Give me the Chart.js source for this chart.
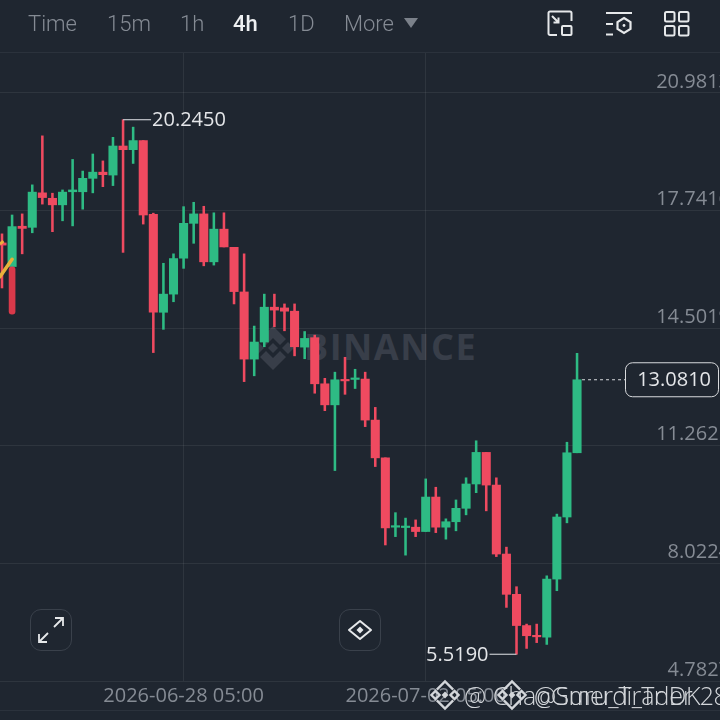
<!DOCTYPE html>
<html><head><meta charset="utf-8">
<script src="https://cdn.jsdelivr.net/npm/chart.js@4"></script>
<style>
html,body{margin:0;padding:0;background:#1f2630;width:720px;height:720px;overflow:hidden;font-family:Roboto,sans-serif}
#wrap{position:relative;width:720px;height:720px}
#c{position:absolute;left:0;top:0;width:720px;height:720px}
.hdr{position:absolute;left:0;top:0;width:720px;height:52px;border-bottom:1px solid #2b323c;box-sizing:content-box}
.t{position:absolute;top:9px;font-size:22px;font-weight:300;color:#858b94;line-height:30px}
.t.on{color:#eef0f2;font-weight:500}
.foot{position:absolute;left:0;top:710px;width:720px;height:1px;background:#2b323c}
.btn{position:absolute;top:609px;width:42px;height:42px;border:1px solid #3a414b;border-radius:11px;box-sizing:border-box}
svg{position:absolute}
.wm{position:absolute;top:677px;font-family:"Open Sans",sans-serif;font-size:25px;color:#d3d6da;line-height:36px;white-space:nowrap;font-weight:300}
#bn{position:absolute;left:304px;top:325px;font-family:"Open Sans",sans-serif;font-size:36px;font-weight:700;color:#383e49;letter-spacing:1.5px;line-height:44px}
</style></head><body>
<div id="wrap">
<svg width="48" height="48" viewBox="-24 -24 48 48" style="left:249px;top:324px"><g fill="#383e49"><path d="M0-22 13-9 7-3 0-10-7-3-13-9Z"/><path d="M0 22 13 9 7 3 0 10-7 3-13 9Z"/><path d="M-15-6-9 0-15 6-21 0Z"/><path d="M15-6 21 0 15 6 9 0Z"/><path d="M0-5 5 0 0 5-5 0Z"/></g></svg>
<div id="bn">BINANCE</div>
<canvas id="c" width="720" height="720"></canvas>
<div class="hdr"></div>
<div class="t" style="left:28px">Time</div>
<div class="t" style="left:107px">15m</div>
<div class="t" style="left:180px">1h</div>
<div class="t on" style="left:233px">4h</div>
<div class="t" style="left:288px">1D</div>
<div class="t" style="left:344px">More</div>
<svg width="16" height="12" style="left:403px;top:17px"><path d="M1 1H15L8 11Z" fill="#7b818a"/></svg>
<svg width="28" height="28" style="left:547px;top:10px" fill="none" stroke="#e6e8ea" stroke-width="2"><path d="M10 25H3a1.5 1.5 0 0 1-1.500-1.500V3A1.500 1.500 0 0 1 3 1.500H23A1.500 1.500 0 0 1 24.500 3V11"/><rect x="15" y="16" width="9.500" height="9" rx="1"/><path d="M5 6 11.500 12.500M11.500 7.500V12.500H6.500"/></svg>
<svg width="30" height="28" style="left:604px;top:10px" fill="none" stroke="#e6e8ea" stroke-width="2.200"><path d="M2 3H28M2 14H9M2 24.500H9"/><path d="M20 8 26.500 12V19L20 23 13.500 19V12Z"/><circle cx="20" cy="15.500" r="1.400" fill="#e6e8ea" stroke="none"/></svg>
<svg width="28" height="28" style="left:663px;top:10px" fill="none" stroke="#e6e8ea" stroke-width="2"><rect x="2" y="2" width="9.500" height="9.500" rx="1.500"/><rect x="16" y="2" width="9.500" height="9.500" rx="1.500"/><rect x="2" y="16" width="9.500" height="9.500" rx="1.500"/><rect x="16" y="16" width="9.500" height="9.500" rx="1.500"/></svg>
<div class="btn" style="left:30px"></div>
<svg width="30" height="30" style="left:36px;top:615px" fill="none" stroke="#e6e8ea" stroke-width="1.800"><path d="M3 27 12 18M3 19V27H11M27 3 18 12M19 3H27V11"/></svg>
<div class="btn" style="left:339px"></div>
<svg width="28" height="22" style="left:346px;top:619px"><path d="M14 2 25 11 14 20 3 11Z" fill="none" stroke="#e6e8ea" stroke-width="2" stroke-linejoin="round"/><path d="M14 7.500 17.500 11 14 14.500 10.500 11Z" fill="#e6e8ea"/></svg>
<div class="foot"></div>
<svg width="30" height="34" viewBox="-22 -22 44 44" style="left:430px;top:678px"><g fill="none" stroke="#d3d6da" stroke-width="3.500"><path d="M-12-8 0-20 12-8M-12 8 0 20 12 8M-20 0-14 6-8 0-14-6ZM20 0 14 6 8 0 14-6Z"/></g><path d="M0-5 5 0 0 5-5 0Z" fill="#d3d6da"/></svg>
<svg width="30" height="34" viewBox="-22 -22 44 44" style="left:497px;top:678px"><g fill="none" stroke="#d3d6da" stroke-width="3.500"><path d="M-12-8 0-20 12-8M-12 8 0 20 12 8M-20 0-14 6-8 0-14-6ZM20 0 14 6 8 0 14-6Z"/></g><path d="M0-5 5 0 0 5-5 0Z" fill="#d3d6da"/></svg>
<div class="wm" style="left:464px">@ ChaoGuru_Trader</div>
<div class="wm" style="left:534px;letter-spacing:-.6px">@Smerdi_Tr DK28</div>
</div>
<script>
const opens=[16.85,16.20,17.31,17.28,18.23,18.08,17.90,18.26,18.26,18.63,18.80,18.72,19.52,19.42,19.67,17.64,14.94,15.44,16.43,17.39,17.65,16.33,17.23,16.73,15.50,13.65,14.12,15.08,15.06,14.97,13.98,14.24,12.97,12.39,13.09,13.09,13.10,11.97,10.93,9.02,9.01,9.02,8.90,9.85,9.02,9.17,9.54,10.21,11.08,10.18,8.28,7.17,6.31,6.04,5.99,7.59,9.30,11.07];
const closes=[16.79,17.30,17.25,18.25,18.10,17.90,18.25,18.31,18.63,18.80,18.73,19.52,19.42,19.67,17.62,14.94,15.44,16.42,17.39,17.65,16.33,17.23,16.74,15.51,13.65,14.12,15.08,15.00,14.97,13.99,14.22,12.97,12.39,13.08,13.05,13.13,11.97,10.93,9.00,9.04,9.04,8.90,9.85,9.02,9.17,9.54,10.21,11.08,10.18,8.28,7.17,6.31,6.03,6.00,7.59,9.30,11.07,13.081];
const highs=[17.10,17.62,17.65,18.45,19.80,18.22,18.31,19.15,18.83,19.30,19.11,19.76,20.245,20.04,19.67,17.67,16.29,16.55,17.85,17.97,17.86,17.68,17.68,16.73,16.55,14.56,15.44,15.44,15.17,15.17,14.41,14.31,13.12,13.29,13.70,13.37,13.29,12.32,10.93,9.42,9.27,9.22,10.35,10.12,9.25,9.77,10.38,11.40,11.08,10.38,8.47,7.38,6.35,6.35,7.68,9.38,11.36,13.81];
const lows=[15.61,15.97,16.55,17.13,17.92,17.16,17.46,17.32,17.78,18.23,18.40,18.43,16.59,19.04,17.37,13.83,14.47,15.23,16.15,16.84,16.22,16.24,16.74,15.17,13.03,13.19,13.99,14.54,14.43,13.74,13.66,12.71,12.23,10.58,12.68,12.84,11.79,10.69,8.53,8.76,8.25,8.76,8.90,8.87,8.69,8.92,9.36,9.97,9.47,8.21,6.81,5.519,5.68,5.84,5.79,7.27,9.14,11.07];
const priceTicks=[20.9813,17.7416,14.5019,11.2621,8.0224,4.7827];
const timeTicks=[18,42];
const timeLabels=["2026-06-28 05:00","2026-07-02 05:00"];
const overlayPill=[14.89,16.19];
const overlayArrowX=[-0.2,1];
const overlayArrowY=[15.92,16.40];
const overlayTickX=[-0.2,0.15];
const overlayTickY=[16.82,16.90];
const highLabel="20.2450", lowLabel="5.5190", lastLabel="13.0810";
const highIdx=12, lowIdx=51, lastPrice=13.081, highPrice=20.245, lowPrice=5.519;

const UP='#2ebb84', DOWN='#ef4a60';
const idx=opens.map((_,i)=>i);
const cols=idx.map(i=>closes[i]>=opens[i]?UP:DOWN);
const FONT='"Open Sans", sans-serif';

const callouts={id:'callouts',afterDatasetsDraw(ch){
  const g=ch.ctx,x=ch.scales.x,y=ch.scales.y;
  g.save();
  g.font='20px '+FONT;g.textBaseline='middle';
  let px=x.getPixelForValue(highIdx),py=y.getPixelForValue(highPrice);
  g.strokeStyle='#c4c7cc';g.lineWidth=1.2;
  g.beginPath();g.moveTo(px,py);g.lineTo(px+28,py);g.stroke();
  g.fillStyle='#e4e6e9';g.textAlign='left';g.fillText(highLabel,px+29,py+1);
  px=x.getPixelForValue(lowIdx);py=y.getPixelForValue(lowPrice);
  g.beginPath();g.moveTo(px,py);g.lineTo(px-27,py);g.stroke();
  g.textAlign='right';g.fillText(lowLabel,px-28,py+1);
  px=x.getPixelForValue(57);py=y.getPixelForValue(lastPrice);
  g.setLineDash([3,3]);g.strokeStyle='#d8dadd';
  g.beginPath();g.moveTo(px+5,py);g.lineTo(625,py);g.stroke();g.setLineDash([]);
  g.fillStyle='#1f2630';g.strokeStyle='#d8dadd';g.lineWidth=1;
  g.beginPath();g.roundRect(625.5,py-17,93,34,7);g.fill();g.stroke();
  g.fillStyle='#e4e6e9';g.textAlign='right';g.fillText(lastLabel,711,py+1);
  g.restore();
}};

new Chart(document.getElementById('c'),{
  type:'bar',
  data:{labels:idx,datasets:[
    {type:'line',order:0,data:overlayArrowX.map((v,i)=>({x:v,y:overlayArrowY[i]})),borderColor:'#e9b03a',borderWidth:3.5,pointRadius:0,borderCapStyle:'round'},
    {type:'line',order:0,data:overlayTickX.map((v,i)=>({x:v,y:overlayTickY[i]})),borderColor:'#e9b03a',borderWidth:3,pointRadius:0},
    {order:1,data:[{x:1,y:overlayPill}],backgroundColor:'#d9394a',barThickness:6,borderRadius:3,borderSkipped:false,grouped:false},
    {order:2,data:idx.map(i=>({x:i,y:[opens[i],closes[i]]})),backgroundColor:cols,barThickness:8.4,grouped:false,minBarLength:1.5},
    {order:3,data:idx.map(i=>({x:i,y:[lows[i],highs[i]]})),backgroundColor:cols,barThickness:1.9,grouped:false}
  ]},
  plugins:[callouts],
  options:{
    responsive:false,animation:false,devicePixelRatio:1,
    layout:{padding:{top:52,bottom:10,left:0,right:0}},
    plugins:{legend:{display:false},tooltip:{enabled:false}},
    scales:{
      x:{type:'linear',offset:false,min:-0.198,max:71.17,
        grid:{offset:false,color:'rgba(255,255,255,0.07)',drawTicks:false,lineWidth:1},
        border:{display:false},
        afterBuildTicks(s){s.ticks=timeTicks.map(v=>({value:v}));},
        afterFit(s){s.height=29;},
        ticks:{autoSkip:false,maxRotation:0,padding:3,color:'#858b94',font:{family:FONT,size:20},
          callback(v){const k=timeTicks.indexOf(v);return k<0?'':timeLabels[k];}}
      },
      y:{position:'right',min:4.7827,max:22.11,
        grid:{color:'rgba(255,255,255,0.07)',drawTicks:false,lineWidth:1},
        border:{display:false},
        afterBuildTicks(s){s.ticks=priceTicks.map(v=>({value:v}));},
        afterFit(s){s.width=0;},
        ticks:{mirror:true,padding:10,labelOffset:-11,color:'#858b94',font:{family:FONT,size:20},
          callback(v){return v.toFixed(4);}}
      }
    }
  }
});
</script>
</body></html>
